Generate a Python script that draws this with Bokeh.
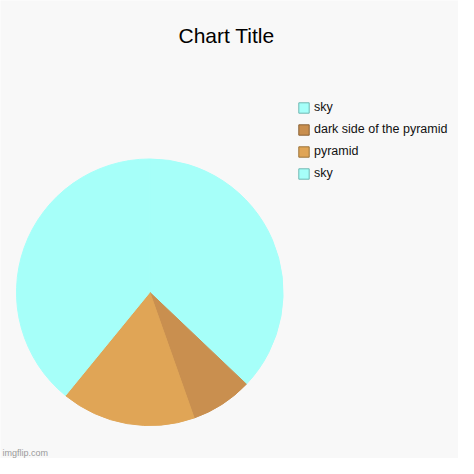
import numpy as np
from bokeh.plotting import figure
from bokeh.models import ColumnDataSource, Legend, LegendItem, Label, Range1d
from bokeh.embed import file_html
from bokeh.resources import INLINE

# slices, clockwise from 12 o'clock (shares, in %)
labels = ["sky", "dark side of the pyramid", "pyramid", "sky"]
shares = [37.1, 7.5, 16.3, 39.1]
colors = ["#a6fff9", "#c98f4f", "#e0a556", "#a6fff9"]
borders = ["#6fb8b3", "#8a6235", "#9c7338", "#6fb8b3"]

W = H = 458
BG = "#f8f8f8"


def main():
    frac = np.cumsum([0] + shares) / sum(shares) * 2 * np.pi
    src = ColumnDataSource(dict(
        start=np.pi / 2 - frac[:-1],
        end=np.pi / 2 - frac[1:],
        color=colors,
        border=borders,
    ))

    p = figure(width=W, height=H, x_range=Range1d(0, W), y_range=Range1d(0, H),
               output_backend="svg", toolbar_location=None, min_border=0)
    p.axis.visible = False
    p.grid.visible = False
    p.outline_line_color = None
    p.background_fill_color = BG
    p.border_fill_color = BG

    p.wedge(x=149.3, y=166.2, radius=133.3, start_angle="start", end_angle="end",
            direction="clock", fill_color="color", line_color="color",
            line_width=1, source=src)

    # off-screen squares only used by the legend
    proxy = p.rect(x=-100, y=-100, width=1, height=1, fill_color="color",
                   line_color="border", source=src)
    items = [LegendItem(label=lab, renderers=[proxy], index=i)
             for i, lab in enumerate(labels)]
    legend = Legend(items=items, location=(297, 278), glyph_width=13,
                    glyph_height=13, label_height=13, spacing=8, padding=0,
                    margin=0, border_line_color=None, background_fill_alpha=0,
                    label_standoff=4, label_text_font="Liberation Sans",
                    label_text_font_size="12.5px", label_text_color="#111111")
    p.add_layout(legend)

    p.add_layout(Label(x=226, y=423, text="Chart Title", text_align="center",
                       text_baseline="alphabetic", text_font="Liberation Sans",
                       text_font_size="21px", text_color="#000000"))
    p.add_layout(Label(x=2, y=6, text="imgflip.com", text_align="left",
                       text_baseline="alphabetic", text_font="Liberation Sans",
                       text_font_size="9px", text_color="#9a9a9a"))

    open("out.html", "w").write(file_html(p, INLINE))


if __name__ == "__main__":
    main()
